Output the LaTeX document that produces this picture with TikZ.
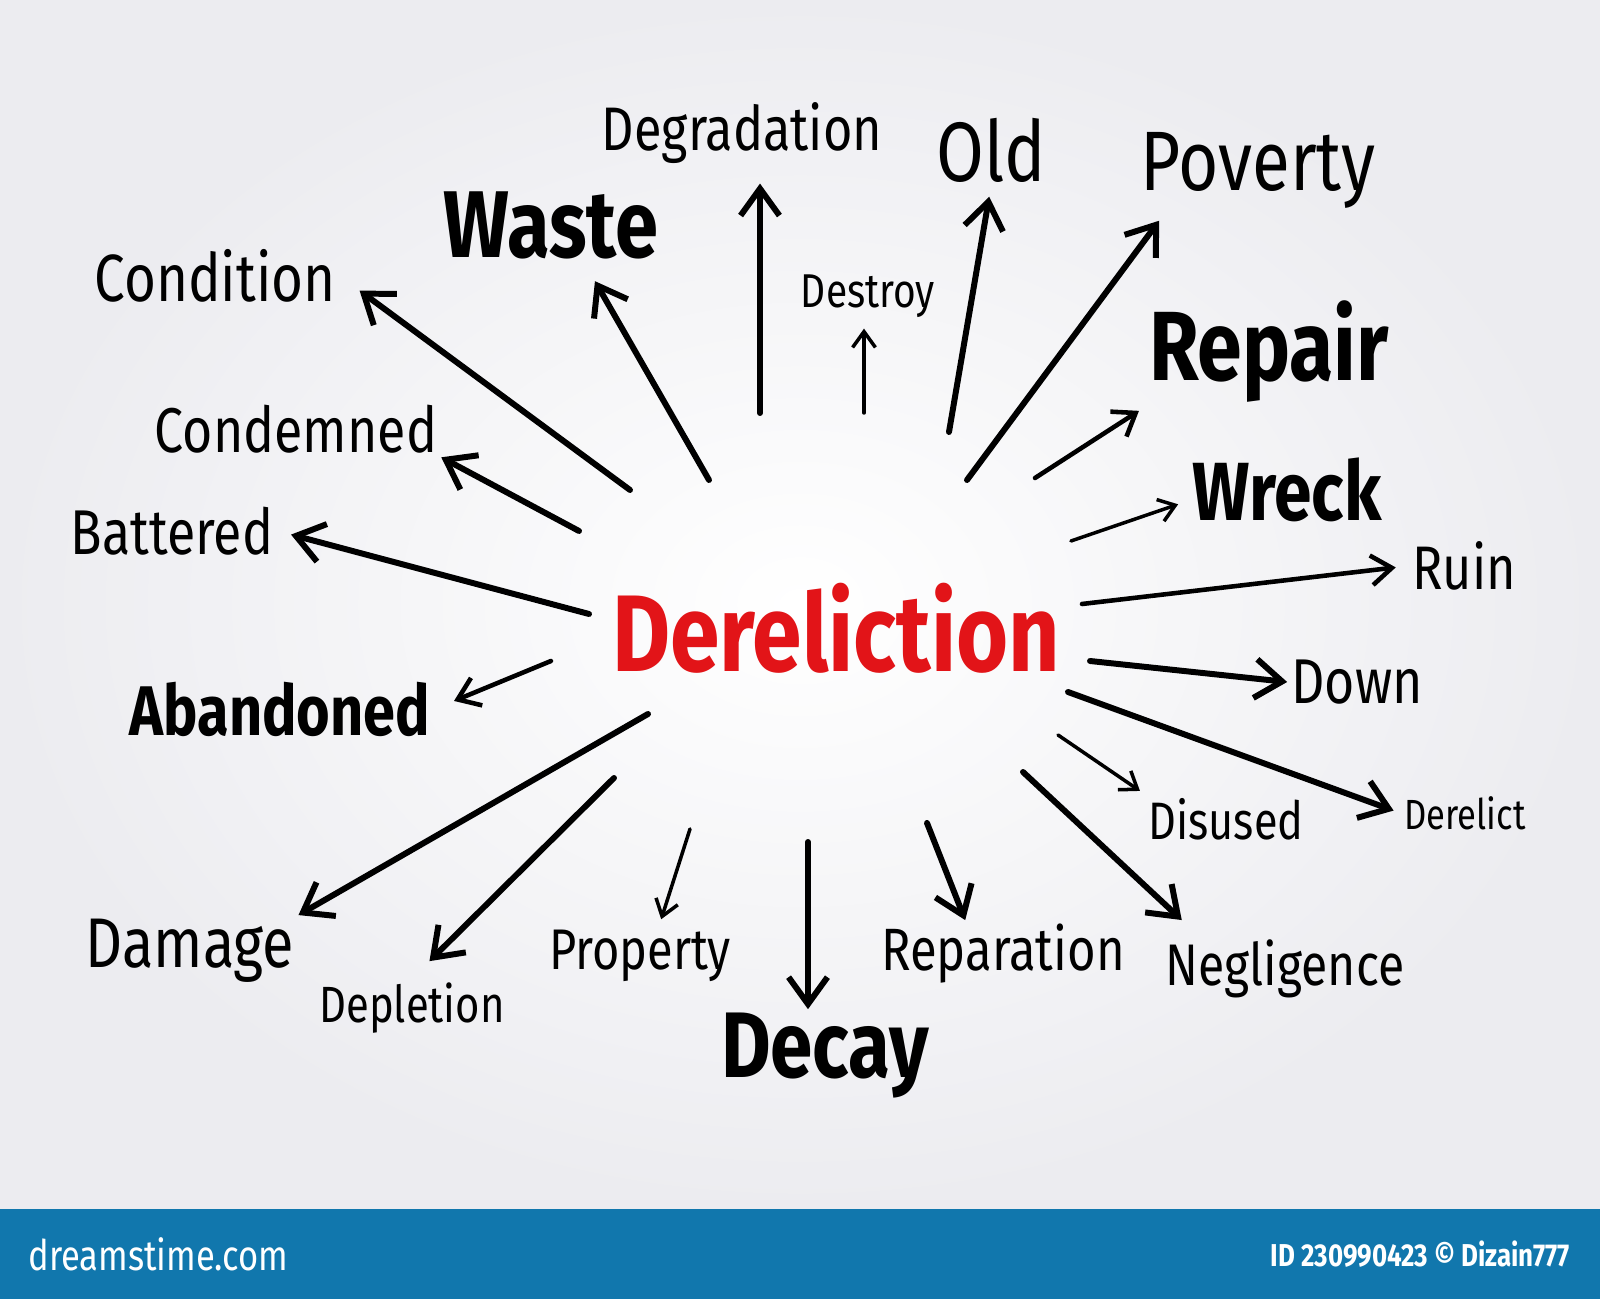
\documentclass[tikz,border=0pt]{standalone}
\usepackage{fontspec}
\setmainfont[FakeStretch=0.82]{Fira Sans}
\usetikzlibrary{arrows.meta,calc}
\definecolor{dred}{RGB}{226,20,24}
\definecolor{barblue}{RGB}{17,119,173}
\definecolor{edgegray}{RGB}{236,236,240}

\begin{document}
\begin{tikzpicture}[x=0.1mm,y=-0.1mm,
    word/.style={inner sep=1pt,font=\fontsize{#1}{#1}\selectfont},
    bword/.style={inner sep=1pt,font=\fontsize{#1}{#1}\selectfont\bfseries},
    arr/.style={-{Straight Barb[length=0pt 4.5,width=0pt 6.5]},line cap=round,line width=#1}]
    \shade[inner color=white,outer color=edgegray] (0,0) rectangle (1600,1209);
    \fill[barblue] (0,1209) rectangle (1600,1299);
    \useasboundingbox (0,0) rectangle (1600,1299);
    % words
    \node[bword=31,text=dred] (der) at (836,628) {Dereliction};
    \node[word=17.5] (degr) at (742,133) {Degradation};
    \node[bword=27] (waste) at (551,225) {Waste};
    \node[word=24] (old) at (991,150) {Old};
    \node[word=24] (pov) at (1258,170) {Poverty};
    \node[word=19] (cond) at (215,276) {Condition};
    \node[word=13.5] (destr) at (868,296) {Destroy};
    \node[bword=28] (repair) at (1269,352) {Repair};
    \node[word=18] (condm) at (296,429) {Condemned};
    \node[bword=23.5] (wreck) at (1287,490) {Wreck};
    \node[word=18] (batt) at (172,531) {Battered};
    \node[word=17.5] (ruin) at (1464,566) {Ruin};
    \node[bword=20] (aband) at (280,709) {Abandoned};
    \node[word=18] (down) at (1357,682) {Down};
    \node[word=15] (disu) at (1226,819) {Disused};
    \node[word=12] (dere) at (1465,813) {Derelict};
    \node[word=20] (dmg) at (190,951) {Damage};
    \node[word=14.5] (depl) at (412,1008) {Depletion};
    \node[word=16.3] (prop) at (640,956) {Property};
    \node[bword=26.5] (decay) at (825,1056) {Decay};
    \node[word=17] (repa) at (1003,954) {Reparation};
    \node[word=16.7] (negl) at (1285,969) {Negligence};
    % arrow starts round the centre
    \foreach \n/\x/\y in {cond/630/490,waste/709/480,degr/760/413,destr/864/413,old/949/432,
        pov/967/480,repair/1035/478,wreck/1071/541,ruin/1082/604,down/1090/661,dere/1068/692,
        disu/1058/735,negl/1023/772,repa/927/823,decay/808/842,prop/690/829,depl/614/778,
        dmg/648/714,aband/551/661,batt/589/614,condm/579/531}
        \coordinate (s\n) at (\x,\y);
    \foreach \n/\t/\g in {cond/{(cond.east)}/7,waste/{($(waste.south)!0.3!(waste.south east)$)}/6,
        degr/{(degr.south -| sdegr)}/4.5,old/{(old.south)}/3,
        pov/{($(pov.south west)!0.12!(pov.south east)$)}/3,batt/{(batt.east)}/4,
        dmg/{(dmg.north east)}/0,depl/{(depl.north)}/7,dere/{(dere.west)}/2,
        negl/{($(negl.north west)!0.15!(negl.north east)$)}/6.5,decay/{(decay.north -| sdecay)}/0,
        repa/{($(repa.north west)!0.35!(repa.north east)$)}/0,down/{(down.west)}/0,
        condm/{(condm.south east)}/0}
        \draw[arr=1.7pt,shorten >=\g pt] (s\n) -- \t;
    \foreach \n/\t/\g in {repair/{(repair.south west)}/2,ruin/{(ruin.west)}/3.5,aband/{(aband.east)}/6}
        \draw[arr=1.3pt,shorten >=\g pt] (s\n) -- \t;
    \foreach \n/\t/\g in {destr/{(destr.south -| sdestr)}/2,prop/{($(prop.north)!0.2!(prop.north east)$)}/2,
        wreck/{($(wreck.west)!0.3!(wreck.south west)$)}/3,disu/{(disu.north west)}/1.5}
        \draw[arr=1pt,shorten >=\g pt] (s\n) -- \t;
    % bottom bar
    \node[anchor=west,text=white,font=\fontsize{12}{12}\selectfont] (brand) at (16,1254) {dreamstime.com};
    \node[anchor=east,text=white,font=\fontsize{9}{9}\selectfont\bfseries] (credit) at (1582,1254) {ID 230990423 © Dizain777};
\end{tikzpicture}
\end{document}
